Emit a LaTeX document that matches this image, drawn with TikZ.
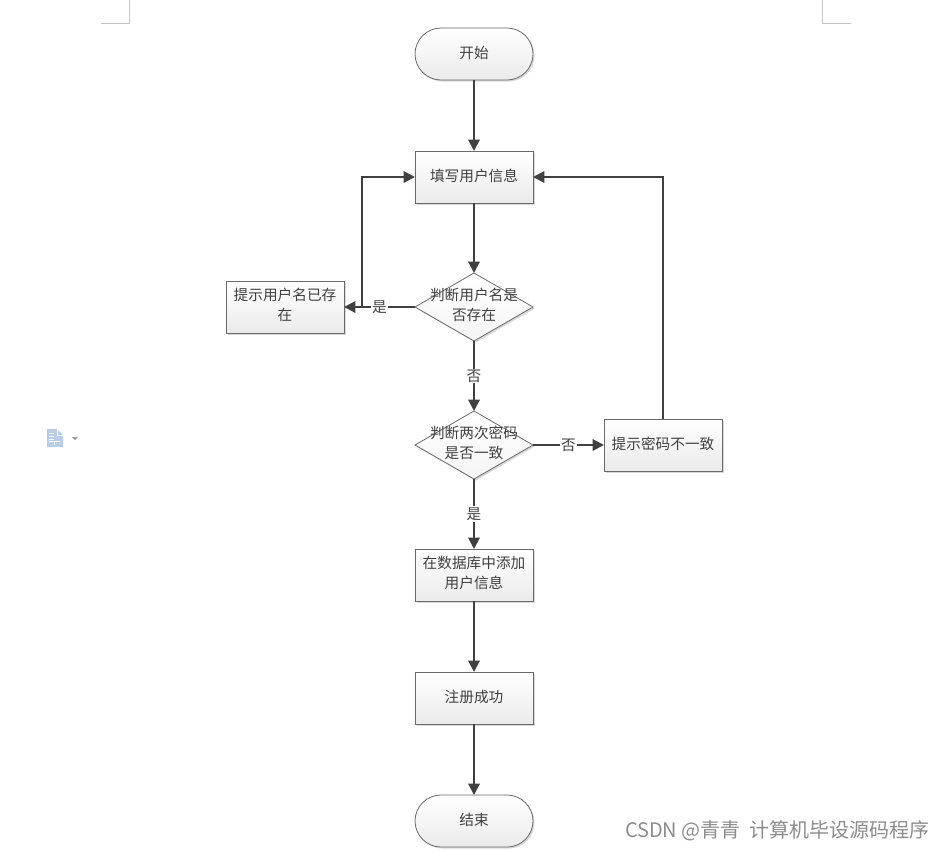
\documentclass[tikz,border=0pt]{standalone}
\usepackage{fontspec}
\usepackage{tikz}
\usetikzlibrary{arrows.meta,shapes.misc,shapes.geometric,shadows}
\newfontfamily\cjk{Noto Sans CJK SC}
\definecolor{linegray}{HTML}{404040}
\definecolor{edgegray}{HTML}{6A6A6A}
\definecolor{markgray}{HTML}{C4C4C4}
\definecolor{iconblue}{HTML}{B9CDE9}
\tikzset{
  shapebase/.style={draw=edgegray,line width=0.6pt,outer sep=0pt,inner sep=0pt,
    top color=white,bottom color=black!8,
    drop shadow={shadow xshift=1.2pt,shadow yshift=-1.2pt,fill=black!30,opacity=0.5}},
  proc/.style={shapebase,rectangle,minimum width=88.5pt,minimum height=39pt},
  term/.style={shapebase,rounded rectangle,minimum width=88.5pt,minimum height=39pt},
  decide/.style={shapebase,diamond,aspect=1.735,minimum width=88.5pt,minimum height=51pt,
    top color=white,bottom color=black!4},
  flow/.style={line width=1.5pt,linegray,-{Triangle[length=8.5pt,width=8.5pt]}},
  lbl/.style={font=\cjk\fontsize{11}{14.8}\selectfont,text=black!75,align=center},
  tag/.style={lbl,fill=white,inner sep=0.8pt},
  cropmark/.style={markgray,line width=0.6pt},
}
\begin{document}
\begin{tikzpicture}[x=0.75pt,y=-0.75pt]
    \useasboundingbox (0,0) rectangle (945,850);
    % --- page furniture ---
    \draw[cropmark] (101,23) -- (129,23) -- (129,0);
    \draw[cropmark] (851,23) -- (822,23) -- (822,0);
    \fill[iconblue] (47,429) -- (57,429) -- (63,435) -- (63,447) -- (47,447) -- cycle;
    \draw[white,line width=0.7pt] (57,429) -- (57,435) -- (63,435);
    \foreach \y in {433,436,439} \draw[white,line width=0.7pt] (49,\y) -- (54,\y);
    \draw[white,line width=0.7pt] (49,441.5) -- (60,441.5) (54.5,441.5) -- (54.5,445);
    \fill[black!40] (72,437) -- (78,437) -- (75,440) -- cycle;
    % --- flow nodes ---
    \node[term] (start) at (474,54) {};
    \node[proc] (fill) at (474,177) {};
    \node[decide] (namecheck) at (474,307) {};
    \node[proc] (nameexists) at (285,307) {};
    \node[decide] (pwdcheck) at (474,445) {};
    \node[proc] (pwdwrong) at (663,445) {};
    \node[proc] (addrow) at (474,575) {};
    \node[proc] (success) at (474,698) {};
    \node[term] (finish) at (474,821) {};
    % --- texts ---
    \node[lbl] (starttxt) at (474,53) {开始};
    \node[lbl] (filltxt) at (474,176) {填写用户信息};
    \node[lbl] (namechecktxt) at (474,305) {判断用户名是\\否存在};
    \node[lbl] (nameexiststxt) at (285,305) {提示用户名已存\\在};
    \node[lbl] (pwdchecktxt) at (474,443) {判断两次密码\\是否一致};
    \node[lbl] (pwdwrongtxt) at (663,444) {提示密码不一致};
    \node[lbl] (addrowtxt) at (474,573) {在数据库中添加\\用户信息};
    \node[lbl] (successtxt) at (474,697) {注册成功};
    \node[lbl] (finishtxt) at (474,820) {结束};
    % --- connectors ---
    \coordinate (loop) at (362,307);
    \draw[flow] (start) -- (fill);
    \draw[flow] (fill) -- (namecheck);
    \draw[flow] (namecheck) -- node[tag] {是} (nameexists);
    \draw[flow] (loop) |- (fill);
    \draw[flow] (namecheck) -- node[tag] {否} (pwdcheck);
    \draw[flow] (pwdcheck) -- node[tag] {否} (pwdwrong);
    \draw[flow] (pwdwrong) |- (fill);
    \draw[flow] (pwdcheck) -- node[tag] {是} (addrow);
    \draw[flow] (addrow) -- (success);
    \draw[flow] (success) -- (finish);
    % --- watermark ---
    \node[font=\cjk\fontsize{15}{16}\selectfont,text=black!45,anchor=east,inner sep=0pt] (mark) at (930,831) {CSDN @青青~~计算机毕设源码程序};
\end{tikzpicture}
\end{document}
